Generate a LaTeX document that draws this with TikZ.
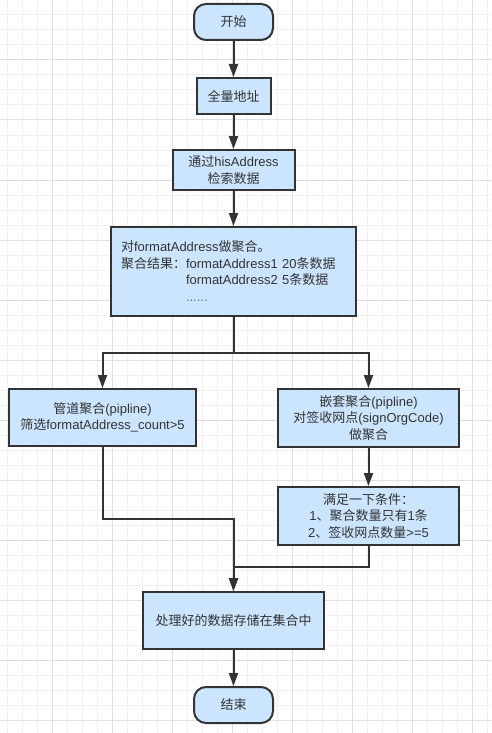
\documentclass[tikz,border=0pt]{standalone}
\usepackage{fontspec}
\setmainfont{Noto Sans CJK SC}
\newfontfamily\en{Liberation Sans}
\usepackage{xcolor}
\definecolor{boxfill}{RGB}{204,229,255}
\definecolor{ink}{RGB}{51,51,51}
\usepackage{tikz}
\usetikzlibrary{positioning,arrows.meta,calc}

\begin{document}
\begin{tikzpicture}[x=1pt, y=-1pt, font=\fontsize{13}{16.5}\selectfont, >={Triangle[length=13pt,width=9pt]}]
\tikzset{blk/.style={draw=ink, line width=2pt, fill=boxfill, text=ink, align=center, inner sep=0pt},
  pill/.style={blk, rounded corners=12pt, minimum width=79pt, minimum height=36pt},
  flow/.style={draw=ink, line width=2pt}}
\useasboundingbox (0,0) rectangle (491,733);
% grid
\foreach \x in {7.5,22.5,...,490} \draw[black!6, line width=1pt] (\x,0) -- (\x,733);
\foreach \y in {15,30,...,733} \draw[black!6, line width=1pt] (0,\y) -- (491,\y);
\foreach \x in {52.5,112.5,...,490} \draw[black!12, line width=1pt] (\x,0) -- (\x,733);
\foreach \y in {0,60,...,733} \draw[black!12, line width=1pt] (0,\y) -- (491,\y);

\node[pill] (start) at (233.5,22) {开始};
\node[blk, minimum width=74pt, minimum height=36pt] (addr) at (233.5,96) {全量地址};
\node[blk, minimum width=122pt, minimum height=40pt] (query) at (233.5,170) {通过{\en hisAddress}\\检索数据};
\node[blk, text width=225pt, inner sep=10pt, align=left, minimum height=89pt] (agg) at (233.5,271.5)
  {对{\en formatAddress}做聚合。\\
   聚合结果：{\en formatAddress1 20}条数据\\
   \phantom{聚合结果：}{\en formatAddress2 5}条数据\\
   \phantom{聚合结果：}{\en\color{ink!70}......}};
\node[blk, minimum width=187pt, minimum height=57pt] (pipe) at (102.5,417.5) {管道聚合{\en (pipline)}\\筛选{\en formatAddress\_count>5}};
\node[blk, minimum width=181pt, minimum height=58pt] (nest) at (368.5,418) {嵌套聚合{\en (pipline)}\\对签收网点{\en (signOrgCode)}\\做聚合};
\node[blk, minimum width=181pt, minimum height=58pt] (cond) at (368.5,516) {满足一下条件：\\{\en 1}、聚合数量只有{\en 1}条\\{\en 2}、签收网点数量{\en >=5}};
\node[blk, minimum width=181pt, minimum height=57pt] (store) at (233.5,620.5) {处理好的数据存储在集合中};
\node[pill] (end) at (233.5,705) {结束};

\coordinate (fork) at (233.5,353);
\coordinate (joinL) at (102.5,519);
\coordinate (joinR) at (368.5,567);

\draw[flow, ->] (start) -- (addr);
\draw[flow, ->] (addr) -- (query);
\draw[flow, ->] (query) -- (agg);
\draw[flow, ->] (agg.south) -- (fork) -| (pipe.north);
\draw[flow, ->] (fork) -| (nest.north);
\draw[flow, ->] (nest) -- (cond);
\draw[flow, ->] (pipe.south) -- (joinL) -| (store.north);
\draw[flow, ->] (cond.south) -- (joinR) -| (store.north);
\draw[flow, ->] (store) -- (end);
\end{tikzpicture}
\end{document}
